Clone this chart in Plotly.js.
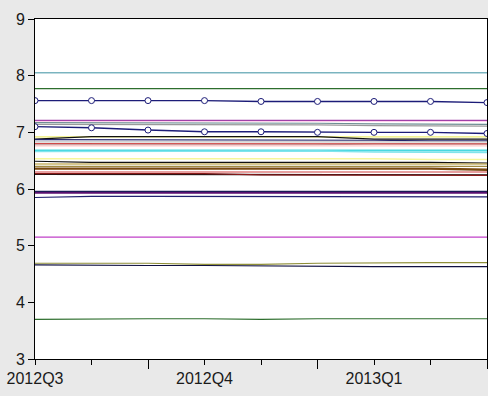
<!DOCTYPE html>
<html><head><meta charset="utf-8">
<script src="https://cdn.plot.ly/plotly-3.0.1.min.js"></script>
<style>html,body{margin:0;padding:0;background:#e9e9e9;}#chart{width:488px;height:396px;}</style>
</head><body><div id="chart"></div>
<script>
// Monthly periods (Jul 2012 .. Mar 2013)
const periods = ['2012M07','2012M08','2012M09','2012M10','2012M11','2012M12','2013M01','2013M02','2013M03'];
const tickLabels = ['2012Q3','','','2012Q4','','','2013Q1','',''];

// Series values
const s01 = [8.05,8.05,8.05,8.05,8.05,8.05,8.05,8.05,8.05];
const s02 = [7.77,7.77,7.77,7.78,7.78,7.78,7.78,7.77,7.77];
const s03 = [7.56,7.56,7.56,7.56,7.545,7.545,7.545,7.545,7.525];
const s04 = [7.21,7.21,7.21,7.21,7.20,7.21,7.21,7.21,7.21];
const s05 = [7.20,7.20,7.20,7.20,7.21,7.20,7.20,7.20,7.20];
const s06 = [7.17,7.17,7.17,7.17,7.16,7.16,7.15,7.15,7.14];
const s07 = [7.14,7.14,7.14,7.14,7.13,7.13,7.12,7.11,7.11];
const s08 = [7.10,7.08,7.04,7.01,7.01,7.00,7.00,7.00,6.98];
const s09 = [6.92,6.92,6.92,6.92,6.92,6.92,6.92,6.92,6.92];
const s10 = [6.88,6.925,6.925,6.925,6.925,6.925,6.88,6.88,6.88];
const s11 = [6.87,6.87,6.87,6.86,6.86,6.86,6.86,6.85,6.85];
const s12 = [6.83,6.83,6.83,6.83,6.83,6.83,6.83,6.83,6.83];
const s13 = [6.80,6.80,6.80,6.80,6.80,6.80,6.795,6.795,6.795];
const s14 = [6.78,6.78,6.78,6.78,6.78,6.78,6.795,6.795,6.795];
const s15 = [6.76,6.76,6.76,6.76,6.76,6.76,6.76,6.76,6.76];
const s16 = [6.68,6.68,6.68,6.68,6.68,6.68,6.68,6.68,6.68];
const s17 = [6.66,6.66,6.66,6.66,6.67,6.67,6.65,6.645,6.645];
const s18 = [6.535,6.535,6.535,6.535,6.535,6.535,6.535,6.52,6.52];
const s19 = [6.49,6.47,6.47,6.47,6.47,6.47,6.47,6.47,6.455];
const s20 = [6.44,6.44,6.44,6.44,6.44,6.44,6.44,6.44,6.44];
const s21 = [6.40,6.40,6.40,6.40,6.40,6.40,6.40,6.40,6.40];
const s22 = [6.36,6.36,6.36,6.36,6.36,6.36,6.36,6.36,6.34];
const s23 = [6.30,6.30,6.30,6.30,6.30,6.30,6.30,6.30,6.30];
const s24 = [6.26,6.26,6.26,6.26,6.25,6.25,6.25,6.25,6.25];
const s25 = [6.27,6.27,6.27,6.27,6.25,6.25,6.25,6.24,6.24];
const s26 = [5.955,5.955,5.955,5.955,5.955,5.955,5.955,5.955,5.955];
const s27 = [5.93,5.93,5.94,5.93,5.93,5.94,5.93,5.93,5.93];
const s28 = [5.85,5.87,5.87,5.87,5.865,5.865,5.865,5.865,5.86];
const s29 = [5.15,5.15,5.15,5.15,5.15,5.15,5.15,5.15,5.15];
const s30 = [4.69,4.69,4.69,4.67,4.67,4.69,4.70,4.70,4.70];
const s31 = [4.66,4.65,4.65,4.65,4.64,4.63,4.63,4.63,4.63];
const s32 = [3.70,3.71,3.71,3.71,3.70,3.71,3.71,3.71,3.71];

const xIdx = periods.map((p, i) => i);

const specs = [
  [s01, '#3a8fa0', 1], [s02, '#2d6e2d', 1.2],
  [s05, '#ffa8dc', 1.2], [s04, '#a040a8', 1.2], [s06, '#6f8f94', 1.2], [s07, '#9a9a9a', 1.2],
  [s09, '#eeee70', 1.4], [s10, '#111111', 1.2], [s11, '#23236a', 1.2],
  [s12, '#c4c4c4', 1.2], [s14, '#b8b8b8', 1.2], [s13, '#d04848', 1.2], [s15, '#ffc8c8', 1.2],
  [s16, '#48d8e0', 2], [s17, '#80e4ec', 1.4], [s18, '#f6f69a', 1.4], [s19, '#111111', 1.2],
  [s20, '#c8b468', 1.4], [s21, '#a08a40', 1.4], [s22, '#7a4a10', 2.4], [s23, '#e08080', 1.4],
  [s24, '#111111', 1.4], [s25, '#8b1a1a', 1.2], [s26, '#1a1a55', 1.4], [s27, '#5a1070', 1.8], [s28, '#202070', 1.2],
  [s29, '#c040c8', 1.2], [s30, '#8f8f38', 1.2], [s31, '#101040', 1.2], [s32, '#2d6e2d', 1.2]
];

const traces = specs.map(([ys, color, w]) => ({
  x: xIdx, y: ys, type: 'scatter', mode: 'lines',
  line: {color: color, width: w}, hoverinfo: 'skip', showlegend: false
}));

[s03, s08].forEach(ys => traces.push({
  x: xIdx, y: ys, type: 'scatter', mode: 'lines+markers',
  line: {color: '#1c1c78', width: 1.4},
  marker: {symbol: 'circle', size: 6, color: '#ffffff', line: {color: '#1c1c78', width: 1}},
  hoverinfo: 'skip', showlegend: false
}));

const layout = {
  width: 488, height: 396,
  margin: {l: 35, r: 1, t: 19, b: 37},
  paper_bgcolor: '#e9e9e9', plot_bgcolor: '#ffffff',
  font: {family: 'Liberation Sans, Arial, sans-serif', size: 16, color: '#1a1a1a'},
  xaxis: {
    range: [0, 8], tickmode: 'array', tickvals: xIdx, ticktext: tickLabels,
    ticks: 'outside', ticklen: 5, tickcolor: '#000', showgrid: false, zeroline: false,
    showline: true, linecolor: '#000', linewidth: 1, mirror: true,
    minor: {tickmode: 'array', tickvals: [2, 5, 8], ticks: 'outside', ticklen: 9, tickcolor: '#000', showgrid: false}
  },
  yaxis: {
    range: [3, 9], dtick: 1, tick0: 3, ticks: 'outside', ticklen: 6, tickcolor: '#000',
    showgrid: false, zeroline: false, showline: true, linecolor: '#000', linewidth: 1, mirror: true
  }
};

Plotly.newPlot('chart', traces, layout, {staticPlot: true, displayModeBar: false});
</script>
</body></html>
